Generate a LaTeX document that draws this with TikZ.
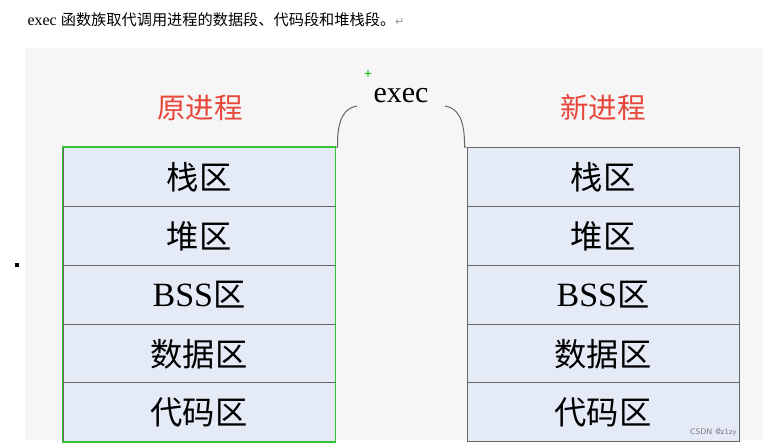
\documentclass[tikz,border=0pt]{standalone}
\usepackage{fontspec}
\setmainfont{Liberation Serif}
\newfontfamily\cjk{Noto Sans CJK SC}[Scale=0.95]
\newfontfamily\dejavu{DejaVu Sans}
\definecolor{cellfill}{HTML}{E4EAF6}
\definecolor{panel}{HTML}{F6F6F6}
\definecolor{titlered}{HTML}{E8463A}
\tikzset{
  cell/.style={draw=black!60, line width=1pt, fill=cellfill, minimum width=272pt, minimum height=59pt, inner sep=0pt, font=\fontsize{34}{36}\selectfont},
  ttl/.style={text=titlered, font=\cjk\fontsize{30}{32}\selectfont},
}
\begin{document}
\begin{tikzpicture}[x=1pt,y=-1pt]
\useasboundingbox (0,0) rectangle (763,447);
\fill[white] (0,0) rectangle (763,447);
\fill[panel] (25,48) rectangle (763,440);
\node[anchor=west, font=\fontsize{16}{18}\selectfont] (cap) at (24,20) {exec {\cjk 函数族取代调用进程的数据段、代码段和堆栈段。}\textcolor{black!40}{\dejavu\fontsize{11}{11}\selectfont ↵}};
\node[ttl] (t1) at (200,108) {原进程};
\node[ttl] (t2) at (603,108) {新进程};
\foreach \side/\x in {L/199, R/603}{
  \node[cell] (\side1) at (\x,177) {\cjk 栈区};
  \node[cell] (\side2) at (\x,236) {\cjk 堆区};
  \node[cell] (\side3) at (\x,295) {BSS\cjk 区};
  \node[cell] (\side4) at (\x,354) {\cjk 数据区};
  \node[cell] (\side5) at (\x,412) {\cjk 代码区};
}
\draw[green!70!black!80, line width=1.5pt] (L1.north west) rectangle (L5.south east);
\node[font=\fontsize{30}{32}\selectfont, inner sep=0pt] (ex) at (401,96) {exec};
\coordinate (a1) at (L1.north east);
\coordinate (a2) at (R1.north west);
\draw[black!60, line width=1pt] (a1) -- ++(2,0) .. controls (337,118) and (345,108) .. (357,106);
\draw[black!60, line width=1pt] (a2) -- ++(-2,0) .. controls (465,118) and (457,108) .. (445,106);
\node[text=green!70!black, font=\bfseries\fontsize{14}{14}\selectfont] (plus) at (368,75) {+};
\fill (15,263) rectangle (19,267);
\node[text=black!55, font=\sffamily\fontsize{8}{8}\selectfont, anchor=east] (wm) at (740,432) {CSDN @z1zy};
\end{tikzpicture}
\end{document}
